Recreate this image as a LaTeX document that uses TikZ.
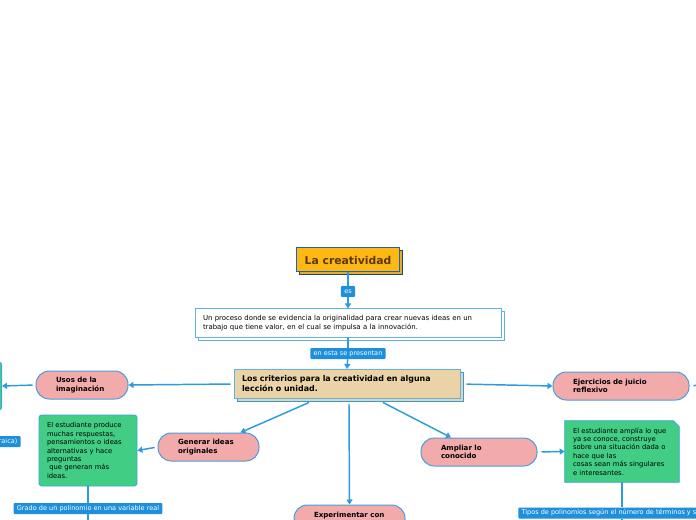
\documentclass[tikz,border=0pt]{standalone}
\usepackage{fontspec}
\setmainfont{DejaVu Sans}
\usetikzlibrary{arrows.meta,shadows,backgrounds}
\definecolor{lineblue}{HTML}{2C9BE0}
\definecolor{labblue}{HTML}{1E90DB}
\definecolor{orangefill}{HTML}{FDB813}
\definecolor{titletext}{HTML}{5A3608}
\definecolor{titleborder}{HTML}{1F63B8}
\definecolor{lightborder}{HTML}{5DB3E6}
\definecolor{tanfill}{HTML}{E9D3A7}
\definecolor{pinkfill}{HTML}{F2AAAA}
\definecolor{pinkborder}{HTML}{4A9DDC}
\definecolor{greenfill}{HTML}{42CD84}
\definecolor{greenborder}{HTML}{3FA6D6}
\begin{document}
\begin{tikzpicture}[x=0.75pt,y=-0.75pt,
  conn/.style={draw=lineblue, line width=1.1pt},
  arr/.style={conn,-{Triangle[width=4.5pt,length=3.75pt]}},
  lab/.style={fill=labblue, text=white, font=\fontsize{4.9}{5.5}\selectfont, rounded corners=0.75pt, inner xsep=2.5pt, inner ysep=0pt, minimum height=8.25pt},
  pill/.style={draw=pinkborder, fill=pinkfill, line width=0.75pt, rounded corners=10pt, minimum height=21pt, inner xsep=15pt, inner ysep=0pt, align=left, font=\bfseries\fontsize{5.3}{6.3}\selectfont},
  greenbox/.style={fill=greenfill, draw=greenborder, line width=0.6pt, rounded corners=2pt, inner xsep=6pt, inner ysep=0pt, align=left, font=\fontsize{5.1}{6.3}\selectfont},
  titlebox/.style={draw=titleborder, fill=orangefill, line width=0.75pt, minimum width=77.25pt, minimum height=18pt, text=titletext, font=\bfseries\fontsize{8.1}{9}\selectfont,
    copy shadow={shadow xshift=2.25pt, shadow yshift=-2.25pt, draw=titleborder!70!black, fill=orangefill!80!gray}},
  procbox/.style={draw=lightborder, fill=white, line width=0.75pt, text width=217.5pt, inner xsep=6pt, inner ysep=0pt, minimum height=21pt, align=left, font=\fontsize{5.2}{6.75}\selectfont,
    copy shadow={shadow xshift=2.25pt, shadow yshift=-2.25pt, draw=lightborder, fill=white}},
  critbox/.style={draw=lightborder, fill=tanfill, line width=0.75pt, text width=157.5pt, inner xsep=6pt, inner ysep=0pt, minimum height=21.75pt, align=left, font=\bfseries\fontsize{5.95}{7.5}\selectfont,
    copy shadow={shadow xshift=2.25pt, shadow yshift=-2.25pt, draw=lineblue, fill=tanfill}}
]
\useasboundingbox (0,0) rectangle (696,520);
\begin{scope}[on background layer]
\fill[white] (0,0) rectangle (696,520);
\end{scope}
\clip (0,0) rectangle (696,520);

% main column
\node[titlebox] (title) at (348,260) {La creatividad};
\node[lab] (es) at (348,291.5) {es};
\node[procbox] (proc) at (348,323) {Un proceso donde se evidencia la originalidad para crear nuevas ideas en un\\ trabajo que tiene valor, en el cual se impulsa a la innovación.};
\node[lab] (pres) at (348,353.5) {en esta se presentan};
\node[critbox] (crit) at (347,384) {Los criterios para la creatividad en alguna\\ lección o unidad.};

% pills
\node[pill, text width=39pt] (usos) at (82,385) {Usos de la\\ imaginación};
\node[pill, text width=45.75pt] (gen) at (208.5,447) {Generar ideas\\ originales};
\node[pill, text width=72pt] (ejer) at (621,386) {Ejercicios de juicio\\ reflexivo};
\node[pill, text width=57pt] (ampl) at (479,452) {Ampliar lo\\ conocido};
\node[pill, text width=53.25pt] (exp) at (349.5,519) {Experimentar con\\ \phantom{x}};

% green boxes
\node[greenbox, minimum width=30pt, minimum height=36pt, anchor=east] (gl) at (2,386) {};
\node[greenbox, text width=61.5pt, minimum height=53.25pt] (g1) at (88,450.5) {El estudiante produce\\ muchas respuestas,\\ pensamientos o ideas\\ alternativas y hace\\ preguntas\\ \ que generan más\\ ideas.};
\node[inner xsep=6pt, inner ysep=0pt, text width=73.5pt, minimum height=45.75pt, align=left, font=\fontsize{5.1}{6.3}\selectfont] (g2) at (622,451.5) {El estudiante amplía lo que\\ ya se conoce, construye\\ sobre una situación dada o\\ hace que las\\ cosas sean más singulares\\ e interesantes.};
\begin{scope}[on background layer]
\filldraw[fill=greenfill, draw=greenborder, line width=0.6pt] (g2.north west) -- ([shift={(-6,0)}]g2.north east) -- ([shift={(0,6)}]g2.north east) -- (g2.south east) -- (g2.south west) -- cycle;
\end{scope}

% small labels
\node[lab, anchor=east] (raica) at (21,441.5) {raica)};
\node[lab] (grado) at (88,508.5) {Grado de un polinomio en una variable real};
\node[lab, anchor=west] (tipos) at (518,513) {Tipos de polinomios según el número de términos y s};
\coordinate (gbot) at (88,525);
\coordinate (tbot) at (622,525);
\coordinate (eR) at (700,385);

% connectors
\draw[conn] (title) -- (es);
\draw[arr] (es) -- (proc.north);
\draw[conn] (proc) -- (pres);
\draw[arr] (pres) -- (crit.north);
\draw[arr, shorten <=2.25pt] (crit.west) -- (usos.east);
\draw[arr, shorten <=2.25pt] (usos.west) -- (gl.east);
\draw[arr, shorten <=4.5pt] (crit.east) -- (ejer.west);
\draw[conn, shorten <=3pt] (ejer.east) -- (eR);
\draw[arr] ([shift={(-38,3.5)}]crit.south) -- ([shift={(32,0)}]gen.north);
\draw[arr] ([shift={(36,3.5)}]crit.south) -- ([shift={(-28,0)}]ampl.north);
\draw[arr] ([shift={(2,5)}]crit.south) -- (exp.north);
\draw[arr, shorten <=2.25pt] (gen.west) -- (g1.east);
\draw[arr, shorten <=3pt] (ampl.east) -- (g2.west);
\draw[conn] (g1.south) -- (grado.north);
\draw[conn] (grado.south) -- (gbot);
\draw[conn] (g2.south) -- (g2.south |- tipos.north);
\draw[conn] (g2.south |- tipos.south) -- (tbot);
\end{tikzpicture}
\end{document}
